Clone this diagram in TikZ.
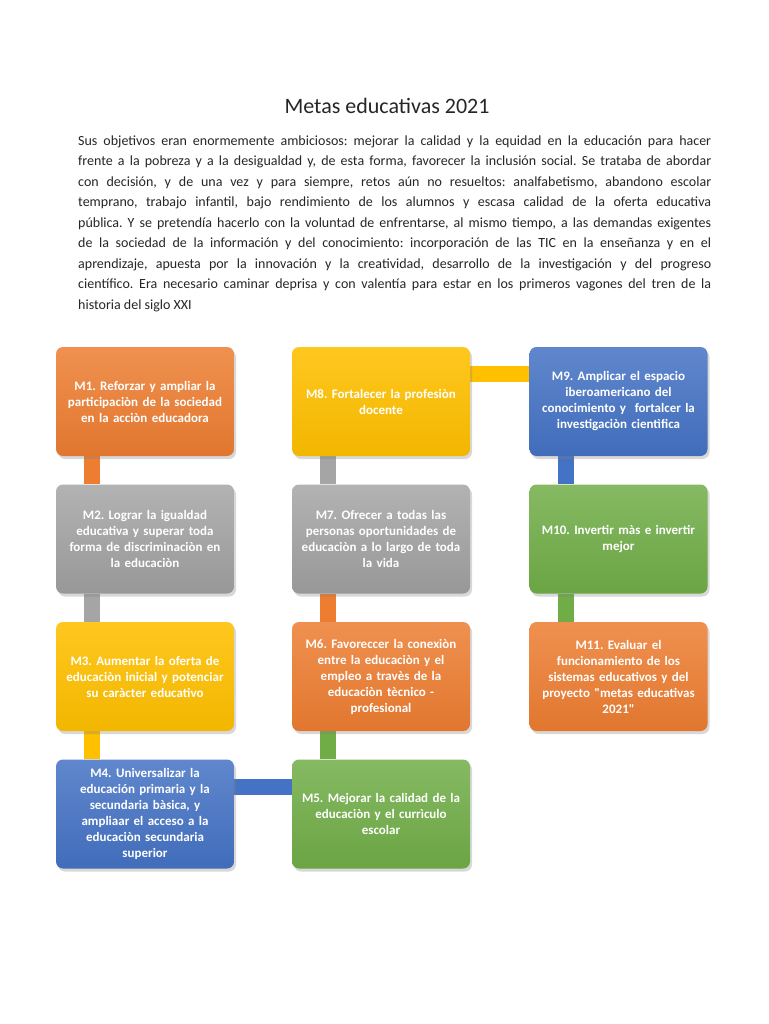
\documentclass[tikz,border=0pt]{standalone}
\usepackage{fontspec}
\setmainfont{Carlito}
\usetikzlibrary{shadows,backgrounds}
\definecolor{cOrange}{HTML}{ED7D31}
\definecolor{cGray}{HTML}{A5A5A5}
\definecolor{cGold}{HTML}{FFC000}
\definecolor{cBlue}{HTML}{4472C4}
\definecolor{cGreen}{HTML}{70AD47}
\definecolor{cText}{HTML}{262626}
\frenchspacing
\tikzset{
  metabox/.style={rounded corners=7pt, minimum width=178pt, minimum height=109pt,
    text width=176pt, align=center, inner sep=0pt,
    font=\fontsize{13}{16}\selectfont\bfseries, text=white,
    drop shadow={opacity=0.3, shadow xshift=2pt, shadow yshift=-3pt}},
  orangebox/.style={metabox, top color=cOrange!85!white, bottom color=cOrange!95!black},
  graybox/.style={metabox, top color=cGray!85!white, bottom color=cGray!92!black},
  goldbox/.style={metabox, top color=cGold!88!white, bottom color=cGold!95!black},
  bluebox/.style={metabox, top color=cBlue!85!white, bottom color=cBlue!95!black},
  greenbox/.style={metabox, top color=cGreen!85!white, bottom color=cGreen!95!black},
  bar/.style={line width=16pt}
}
\begin{document}
\begin{tikzpicture}[x=1pt, y=-1pt]
\useasboundingbox (0,0) rectangle (768,1024);
\node[font=\fontsize{22}{26}\selectfont, anchor=base, text=cText] (title) at (387,114) {Metas educativas 2021};
\node[anchor=north west, text width=633pt, align=justify, inner sep=0pt,
      font=\fontsize{14}{20.5}\selectfont, text=cText] (body) at (78,135.5) {%
Sus objetivos eran enormemente ambiciosos: mejorar la calidad y la equidad en la educación para hacer\linebreak
frente a la pobreza y a la desigualdad y, de esta forma, favorecer la inclusión social. Se trataba de abordar\linebreak
con decisión, y de una vez y para siempre, retos aún no resueltos: analfabetismo, abandono escolar\linebreak
temprano, trabajo infantil, bajo rendimiento de los alumnos y escasa calidad de la oferta educativa\linebreak
pública. Y se pretendía hacerlo con la voluntad de enfrentarse, al mismo tiempo, a las demandas exigentes\linebreak
de la sociedad de la información y del conocimiento: incorporación de las TIC en la enseñanza y en el\linebreak
aprendizaje, apuesta por la innovación y la creatividad, desarrollo de la investigación y del progreso\linebreak
científico. Era necesario caminar deprisa y con valentía para estar en los primeros vagones del tren de la\linebreak
historia del siglo XXI};

\node[orangebox] (m1) at (145,401.5) {M1. Reforzar y ampliar la\\participaciòn de la sociedad\\en la acciòn educadora};
\node[graybox] (m2) at (145,539) {M2. Lograr la igualdad\\educativa y superar toda\\forma de discriminaciòn en\\la educaciòn};
\node[goldbox] (m3) at (145,676.5) {M3. Aumentar la oferta de\\educaciòn inicial y potenciar\\su caràcter educativo};
\node[bluebox] (m4) at (145,814) {M4. Universalizar la\\educación primaria y la\\secundaria bàsica, y\\ampliaar el acceso a la\\educaciòn secundaria\\superior};
\node[greenbox] (m5) at (381,814) {M5. Mejorar la calidad de la\\educaciòn y el currìculo\\escolar};
\node[orangebox] (m6) at (381,676.5) {M6. Favoreccer la conexiòn\\entre la educaciòn y el\\empleo a travès de la\\educaciòn tècnico -\\profesional};
\node[graybox] (m7) at (381,539) {M7. Ofrecer a todas las\\personas oportunidades de\\educaciòn a lo largo de toda\\la vida};
\node[goldbox] (m8) at (381,401.5) {M8. Fortalecer la profesiòn\\docente};
\node[bluebox] (m9) at (618.5,401.5) {M9. Amplicar el espacio\\iberoamericano del\\conocimiento y \ fortalcer la\\investigaciòn cientìfica};
\node[greenbox] (m10) at (618.5,539) {M10. Invertir màs e invertir\\mejor};
\node[orangebox] (m11) at (618.5,676.5) {M11. Evaluar el\\funcionamiento de los\\sistemas educativos y del\\proyecto {\addfontfeatures{Ligatures=TeXOff}"}metas educativas\\2021{\addfontfeatures{Ligatures=TeXOff}"}};

\begin{scope}[on background layer]
\fill[white] (0,0) rectangle (768,1024);
\draw[bar, cOrange] ([xshift=-53pt]m1.south) -- ([xshift=-53pt]m2.north);
\draw[bar, cGray] ([xshift=-53pt]m2.south) -- ([xshift=-53pt]m3.north);
\draw[bar, cGold] ([xshift=-53pt]m3.south) -- ([xshift=-53pt]m4.north);
\draw[bar, cBlue] ([yshift=27pt]m4.east) -- ([yshift=27pt]m5.west);
\draw[bar, cGreen] ([xshift=-53pt]m5.north) -- ([xshift=-53pt]m6.south);
\draw[bar, cOrange] ([xshift=-53pt]m6.north) -- ([xshift=-53pt]m7.south);
\draw[bar, cGray] ([xshift=-53pt]m7.north) -- ([xshift=-53pt]m8.south);
\draw[bar, cGold] ([yshift=28pt]m8.east) -- ([yshift=28pt]m9.west);
\draw[bar, cBlue] ([xshift=-53pt]m9.south) -- ([xshift=-53pt]m10.north);
\draw[bar, cGreen] ([xshift=-53pt]m10.south) -- ([xshift=-53pt]m11.north);
\end{scope}
\end{tikzpicture}
\end{document}
